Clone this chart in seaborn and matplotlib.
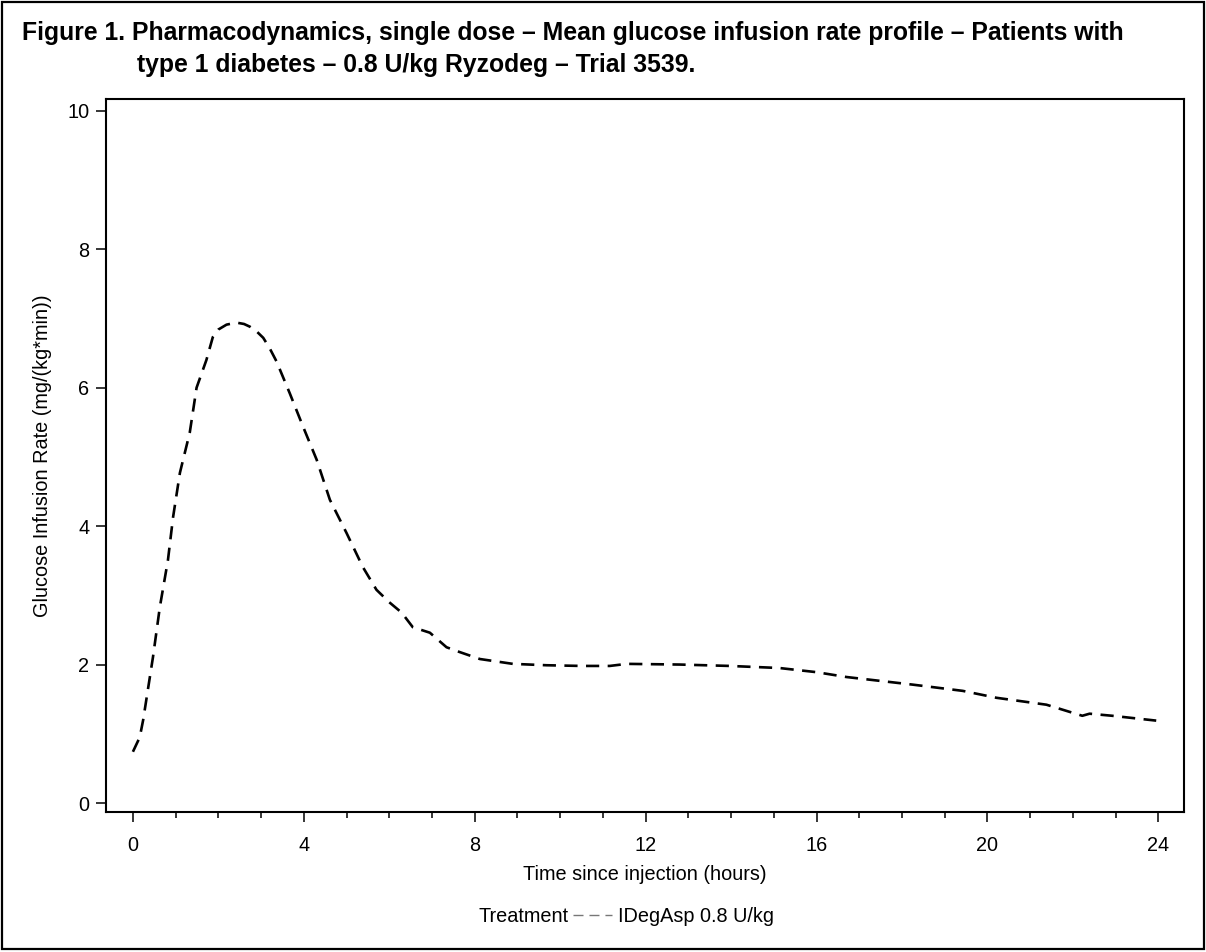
import matplotlib
matplotlib.use("Agg")
import matplotlib.pyplot as plt
import matplotlib.patches as mpatches
from matplotlib.lines import Line2D
from matplotlib.ticker import MultipleLocator
import seaborn as sns
import pandas as pd

# ---- data ----
hours = [0, 0.16, 0.24, 0.47, 0.63, 0.82, 0.94, 1.1, 1.33, 1.49, 1.72, 1.87,
         2.0, 2.19, 2.42, 2.6, 2.74, 2.9, 3.05, 3.2, 3.36, 3.67, 3.98, 4.3,
         4.61, 5.0, 5.38, 5.7, 6.0, 6.29, 6.55, 6.95, 7.34, 7.65, 8.12, 8.89,
         9.68, 10.5, 11.16, 11.56, 12.8, 13.97, 15.13, 16.0, 16.7, 18.25,
         19.42, 20.21, 21.38, 22.22, 22.39, 22.92, 23.95]
gir = [0.74, 0.95, 1.2, 2.11, 2.83, 3.51, 4.13, 4.77, 5.35, 6.0, 6.4, 6.73,
       6.84, 6.91, 6.94, 6.92, 6.88, 6.81, 6.72, 6.57, 6.38, 5.92, 5.44, 4.96,
       4.38, 3.9, 3.41, 3.08, 2.9, 2.75, 2.54, 2.46, 2.25, 2.18, 2.08, 2.01,
       1.99, 1.98, 1.98, 2.01, 2.0, 1.98, 1.95, 1.89, 1.82, 1.71,
       1.62, 1.52, 1.42, 1.26, 1.29, 1.26, 1.19]
treatment = "IDegAsp 0.8 U/kg"
x_ticks = [0, 4, 8, 12, 16, 20, 24]
y_ticks = [0, 2, 4, 6, 8, 10]
title_line1 = "Figure 1. Pharmacodynamics, single dose \u2013 Mean glucose infusion rate profile \u2013 Patients with"
title_line2 = "type 1 diabetes \u2013 0.8 U/kg Ryzodeg \u2013 Trial 3539."
xlabel = "Time since injection (hours)"
ylabel = "Glucose Infusion Rate (mg/(kg*min))"

df = pd.DataFrame({"hours": hours, "gir": gir, "Treatment": treatment})

sns.set_style("ticks")
plt.rcParams["font.family"] = ["Liberation Sans", "DejaVu Sans"]
for k in ["text.color", "axes.labelcolor", "xtick.color", "ytick.color", "axes.edgecolor"]:
    plt.rcParams[k] = "black"

FS = 14.3
W, H = 1206, 952
fig = plt.figure(figsize=(W / 100, H / 100), dpi=100)
ax = fig.add_axes([106 / W, 1 - 812 / H, (1184 - 106) / W, (812 - 99) / H])

sns.lineplot(data=df, x="hours", y="gir", ax=ax, color="black",
             linewidth=1.9, legend=False, sort=False)
ax.lines[0].set_dashes((5.0, 3.2))

ax.set_xlim(-0.63, 24.6)
ax.set_ylim(-0.13, 10.17)
ax.set_xticks(x_ticks)
ax.set_yticks(y_ticks)
ax.xaxis.set_minor_locator(MultipleLocator(1))
ax.tick_params(axis="x", which="major", length=7.5, width=1.1, labelsize=FS, pad=10)
ax.tick_params(axis="x", which="minor", length=4, width=1.1)
ax.tick_params(axis="y", which="major", length=7, width=1.1, labelsize=FS, pad=5)
for s in ax.spines.values():
    s.set_linewidth(1.5)
    s.set_color("black")
    s.set_visible(True)

ax.set_xlabel(xlabel, fontsize=FS, labelpad=7)
ax.set_ylabel(ylabel, fontsize=FS, labelpad=11)

# title
fig.text(22 / W, 1 - 40 / H, title_line1, fontsize=17.8, fontweight="bold",
         ha="left", va="baseline")
fig.text(137 / W, 1 - 72 / H, title_line2, fontsize=17.8, fontweight="bold",
         ha="left", va="baseline")

# legend
fig.text(569 / W, 1 - 916 / H, "Treatment", fontsize=FS, ha="right", va="center")
handle = Line2D([], [], color="#777777", linewidth=1.0, dashes=(7.2, 4.3))
leg = fig.legend([handle], [treatment], loc="center left",
                 bbox_to_anchor=(573 / W, 1 - 916 / H), frameon=False,
                 fontsize=FS, handlelength=1.96, handletextpad=0.3,
                 borderaxespad=0, borderpad=0)

# outer border
fig.patches.append(mpatches.Rectangle((2 / W, 3 / H), 1 - 4 / W, 1 - 5 / H,
                                      transform=fig.transFigure, fill=False,
                                      edgecolor="black", linewidth=1.6))

fig.savefig("out.png", dpi=100, facecolor="white")
